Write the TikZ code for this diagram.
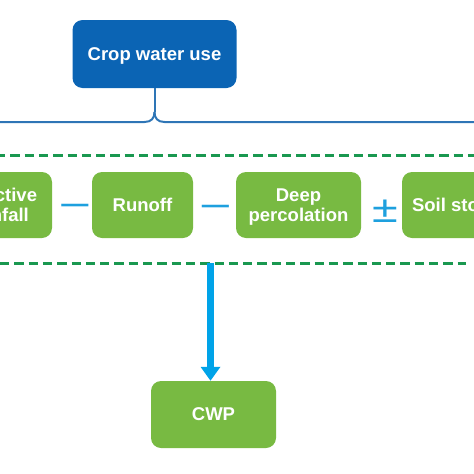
\documentclass[tikz,border=0pt]{standalone}
\usepackage{fontspec}
\usepackage{graphicx}
\setmainfont{Liberation Sans}
\usetikzlibrary{arrows.meta}
\definecolor{boxblue}{RGB}{11,100,180}
\definecolor{boxgreen}{RGB}{120,186,66}
\definecolor{dashgreen}{RGB}{26,152,80}
\definecolor{bracecol}{RGB}{46,117,182}
\definecolor{opblue}{RGB}{30,160,222}
\definecolor{arrowblue}{RGB}{0,163,232}
\begin{document}
\begin{tikzpicture}[x=1pt,y=-1pt,
  box/.style={rounded corners=10pt, text=white, font=\bfseries\fontsize{18.5}{19.5}\selectfont, align=center, inner sep=0pt, text depth=0pt},
  bluebox/.style={box, fill=boxblue},
  greenbox/.style={box, fill=boxgreen, minimum height=66pt},
  grpline/.style={dashgreen, line width=3pt, dash pattern=on 9.3pt off 5pt},
  bracestyle/.style={bracecol, line width=2pt},
  op/.style={text=opblue, font=\fontsize{36}{36}\selectfont, inner sep=0pt, anchor=base},
  flow/.style={arrowblue, line width=7pt, -{Triangle[width=19pt,length=14pt]}}]
\useasboundingbox (0,0) rectangle (474,474);
\clip (0,0) rectangle (474,474);
% top box
\node[bluebox, minimum width=164pt, minimum height=68pt] (cwu) at (154.5,54) {Crop water use};
% brace
\coordinate (bl) at (0,122);
\coordinate (br) at (474,122);
\coordinate (bm) at (154.5,112);
\draw[bracestyle] (cwu.south) -- (bm);
\draw[bracestyle] (bl) -- (144.5,122) .. controls (151.5,122) and (154.5,118) .. (bm);
\draw[bracestyle] (br) -- (164.5,122) .. controls (157.5,122) and (154.5,118) .. (bm);
% group dashed lines
\coordinate (gtl) at (-4,155);
\coordinate (gtr) at (474,155);
\coordinate (gbl) at (0,263);
\coordinate (gbr) at (466,263);
\draw[grpline] (gtl) -- (gtr);
\draw[grpline] (gbl) -- (gbr);
% green boxes
\node[greenbox, minimum width=107pt] (eff) at (-1.5,205) {Effective\\rainfall};
\node[greenbox, minimum width=101pt] (run) at (142.5,205) {Runoff};
\node[greenbox, minimum width=125pt] (dp) at (298.5,205) {Deep\\percolation};
\node[greenbox, minimum width=126pt] (soil) at (465,205) {Soil storage};
% operators
\node[op] (m1) at (75,217) {\scalebox{1.55}[1]{−}};
\node[op] (m2) at (215.5,218) {\scalebox{1.55}[1]{−}};
\node[op] (pm) at (385.5,222) {\scalebox{1.3}[1.05]{±}};
% result
\node[greenbox, minimum width=125pt, minimum height=67pt] (cwp) at (213.5,414.5) {CWP};
\coordinate (grp) at (210.5,263);
\draw[flow] (grp) -- (grp |- cwp.north);
\end{tikzpicture}
\end{document}
